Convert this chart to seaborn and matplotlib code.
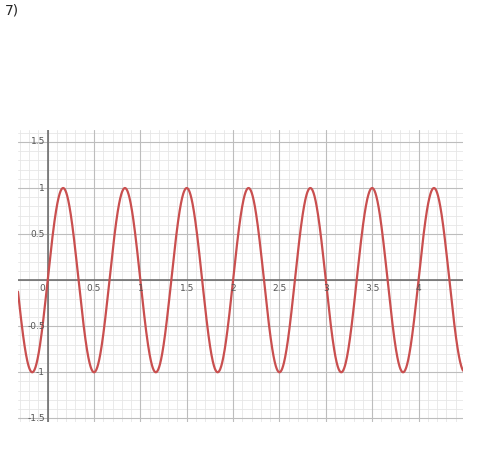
import numpy as np
import pandas as pd
import matplotlib
matplotlib.use("Agg")
import matplotlib.pyplot as plt
import seaborn as sns

# y = amplitude * sin(2*pi*x / period)
amplitude = 1.0
period = 2 / 3
x_range = (-0.32, 4.48)
y_range = (-1.54, 1.63)
x_ticks = [0, 0.5, 1, 1.5, 2, 2.5, 3, 3.5, 4]
x_tick_labels = ["0", "0.5", "1", "1.5", "2", "2.5", "3", "3.5", "4"]
y_ticks = [-1.5, -1, -0.5, 0.5, 1, 1.5]
y_tick_labels = ["-1.5", "-1", "-0.5", "0.5", "1", "1.5"]

x = np.linspace(x_range[0], x_range[1], 2000)
df = pd.DataFrame({"x": x, "y": amplitude * np.sin(2 * np.pi * x / period)})

sns.set_style("white")
fig = plt.figure(figsize=(5.03, 4.5), dpi=100)
ax = fig.add_axes([18 / 503, 28 / 450, 445 / 503, 292 / 450])

# grid: minor every 0.1, major every 0.5
for v in np.arange(-0.3, 4.5, 0.1):
    ax.axvline(v, color="#e6e6e6", lw=0.6, zorder=0)
for v in np.arange(-1.5, 1.65, 0.1):
    ax.axhline(v, color="#e6e6e6", lw=0.6, zorder=0)
for v in np.arange(-0.0, 4.5, 0.5):
    ax.axvline(v, color="#bdbdbd", lw=0.8, zorder=1)
for v in np.arange(-1.5, 1.6, 0.5):
    ax.axhline(v, color="#bdbdbd", lw=0.8, zorder=1)
ax.axhline(0, color="#707070", lw=1.2, zorder=2)
ax.axvline(0, color="#707070", lw=1.2, zorder=2)

sns.lineplot(data=df, x="x", y="y", color="#c94f4f", lw=1.6, ax=ax, zorder=3)

for v, t in zip(x_ticks, x_tick_labels):
    ax.text(v - 0.03 if v == 0 else v, -0.04, t, ha="right" if v == 0 else "center",
            va="top", fontsize=6.5, color="#555555", zorder=4)
for v, t in zip(y_ticks, y_tick_labels):
    ax.text(-0.03, v, t, ha="right", va="center", fontsize=6.5, color="#555555", zorder=4)

ax.set_xlim(*x_range)
ax.set_ylim(*y_range)
ax.set_xticks([])
ax.set_yticks([])
ax.set_xlabel("")
ax.set_ylabel("")
for s in ax.spines.values():
    s.set_visible(False)

fig.text(5 / 503, 1 - 10 / 450, "7)", fontsize=10, va="center", ha="left")
fig.savefig("out.png", dpi=100)
